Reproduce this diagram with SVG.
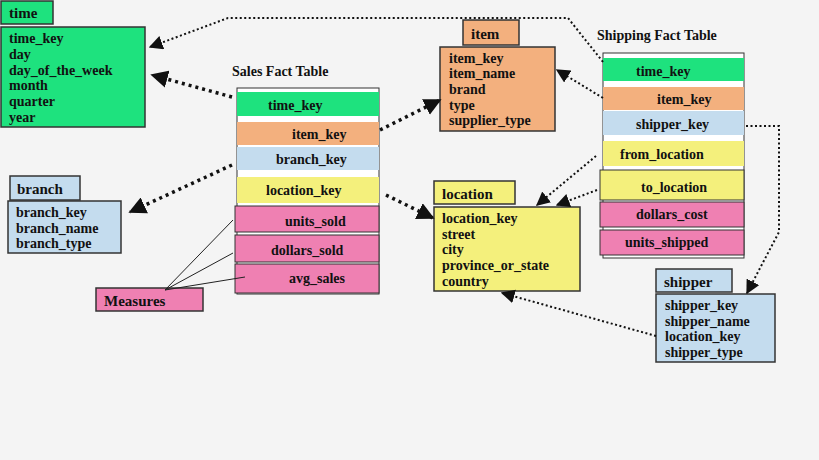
<svg xmlns="http://www.w3.org/2000/svg" width="819" height="460" viewBox="0 0 819 460">
<style>
text{font-family:"Liberation Serif","DejaVu Serif",serif;font-weight:bold;font-size:14px;fill:#111}
.b{stroke:#333;stroke-width:1.5}
.g{fill:#1ee27e}.o{fill:#f3b07e}.u{fill:#c4dcee}.y{fill:#f4f07c}.p{fill:#ef80b2}
.thick{fill:none;stroke:#111;stroke-width:3.5;stroke-dasharray:3 4}
.thin{fill:none;stroke:#111;stroke-width:2;stroke-dasharray:2 2.5}
.ml{stroke:#222;stroke-width:1;fill:none}
</style>
<defs>
<marker id="a" viewBox="0 0 10 10" refX="9" refY="5" markerWidth="5" markerHeight="5" orient="auto" markerUnits="strokeWidth"><path d="M0,0L10,5L0,10z" fill="#111"/></marker>
<marker id="at" viewBox="0 0 10 10" refX="9" refY="5" markerWidth="7" markerHeight="7" orient="auto" markerUnits="strokeWidth"><path d="M0,0L10,5L0,10z" fill="#111"/></marker>
</defs>
<rect width="819" height="460" fill="#f4f4f4"/>
<g id="time">
<rect class="g b" x="1" y="1" width="52" height="23"/><text x="9" y="18" style="font-size:15px">time</text>
<rect class="g b" x="1" y="27" width="144" height="100"/>
<text x="9" y="43">time_key</text><text x="9" y="59">day</text><text x="9" y="75">day_of_the_week</text><text x="9" y="90">month</text><text x="9" y="106">quarter</text><text x="9" y="122">year</text>
</g>
<g id="branch">
<rect class="u b" x="10" y="176" width="70" height="24"/><text x="17" y="194" style="font-size:15px">branch</text>
<rect class="u b" x="8" y="201" width="113" height="52"/>
<text x="16" y="217">branch_key</text><text x="16" y="233">branch_name</text><text x="16" y="248">branch_type</text>
</g>
<g id="sales">
<text x="232" y="76">Sales Fact Table</text>
<rect x="237" y="88" width="142" height="206" fill="#fff" stroke="#333"/>
<rect class="g" x="237" y="92" width="142" height="24"/><text x="268" y="110">time_key</text>
<rect class="o" x="237" y="122" width="142" height="23"/><text x="292" y="139">item_key</text>
<rect class="u" x="237" y="147" width="142" height="23"/><text x="276" y="164">branch_key</text>
<rect class="y" x="237" y="177" width="142" height="26"/><text x="266" y="195">location_key</text>
<rect class="p b" x="235" y="206" width="144" height="26" style="stroke-width:1"/><text x="285" y="226">units_sold</text>
<rect class="p b" x="235" y="235" width="144" height="27" style="stroke-width:1"/><text x="271" y="255">dollars_sold</text>
<rect class="p b" x="235" y="264" width="144" height="29" style="stroke-width:1"/><text x="289" y="283">avg_sales</text>
</g>
<g id="measures">
<rect class="p b" x="96" y="288" width="107" height="23"/><text x="104" y="306" style="font-size:15px">Measures</text>
<path class="ml" d="M165,290L233,220M165,290L233,253M165,290L245,277"/>
</g>
<g id="item">
<rect class="o b" x="463" y="20" width="56" height="25"/><text x="471" y="39" style="font-size:15px">item</text>
<rect class="o b" x="440" y="47" width="115" height="84"/>
<text x="449" y="63">item_key</text><text x="449" y="78">item_name</text><text x="449" y="94">brand</text><text x="449" y="110">type</text><text x="449" y="125">supplier_type</text>
</g>
<g id="location">
<rect class="y b" x="434" y="181" width="81" height="23"/><text x="442" y="199" style="font-size:15px">location</text>
<rect class="y b" x="434" y="207" width="146" height="84"/>
<text x="442" y="223">location_key</text><text x="442" y="239">street</text><text x="442" y="254">city</text><text x="442" y="270">province_or_state</text><text x="442" y="286">country</text>
</g>
<g id="shipping">
<text x="597" y="40">Shipping Fact Table</text>
<rect x="603" y="53" width="141" height="205" fill="#fff" stroke="#333"/>
<rect class="g" x="603" y="58" width="141" height="23"/><text x="636" y="76">time_key</text>
<rect class="o" x="603" y="87" width="141" height="23"/><text x="657" y="104">item_key</text>
<rect class="u" x="603" y="111" width="141" height="24"/><text x="636" y="129">shipper_key</text>
<rect class="y" x="603" y="141" width="141" height="25"/><text x="620" y="159">from_location</text>
<rect class="y" x="600" y="170" width="144" height="30" stroke="#333"/><text x="641" y="192">to_location</text>
<rect class="p" x="600" y="202" width="144" height="25" stroke="#333"/><text x="636" y="219">dollars_cost</text>
<rect class="p" x="600" y="230" width="144" height="25" stroke="#333"/><text x="625" y="247">units_shipped</text>
</g>
<g id="shipper">
<rect class="u b" x="656" y="269" width="76" height="23"/><text x="664" y="287" style="font-size:15px">shipper</text>
<rect class="u b" x="656" y="294" width="119" height="68"/>
<text x="665" y="310">shipper_key</text><text x="665" y="326">shipper_name</text><text x="665" y="341">location_key</text><text x="665" y="357">shipper_type</text>
</g>
<g id="connectors">
<path class="thick" d="M232,97L152,75" marker-end="url(#a)"/>
<path class="thick" d="M380,130L440,100" marker-end="url(#a)"/>
<path class="thick" d="M232,165L130,212" marker-end="url(#a)"/>
<path class="thick" d="M386,195L433,218" marker-end="url(#a)"/>
<path class="thin" d="M603,62L568,18L228,18L150,47" marker-end="url(#at)"/>
<path class="thin" d="M603,98L557,70" marker-end="url(#at)"/>
<path class="thin" d="M596,156L537,205" marker-end="url(#at)"/>
<path class="thin" d="M597,190L557,205" marker-end="url(#at)"/>
<path class="thin" d="M746,126L779,126L779,232L747,293" marker-end="url(#at)"/>
<path class="thin" d="M656,336L502,293" marker-end="url(#at)"/>
</g>
</svg>
